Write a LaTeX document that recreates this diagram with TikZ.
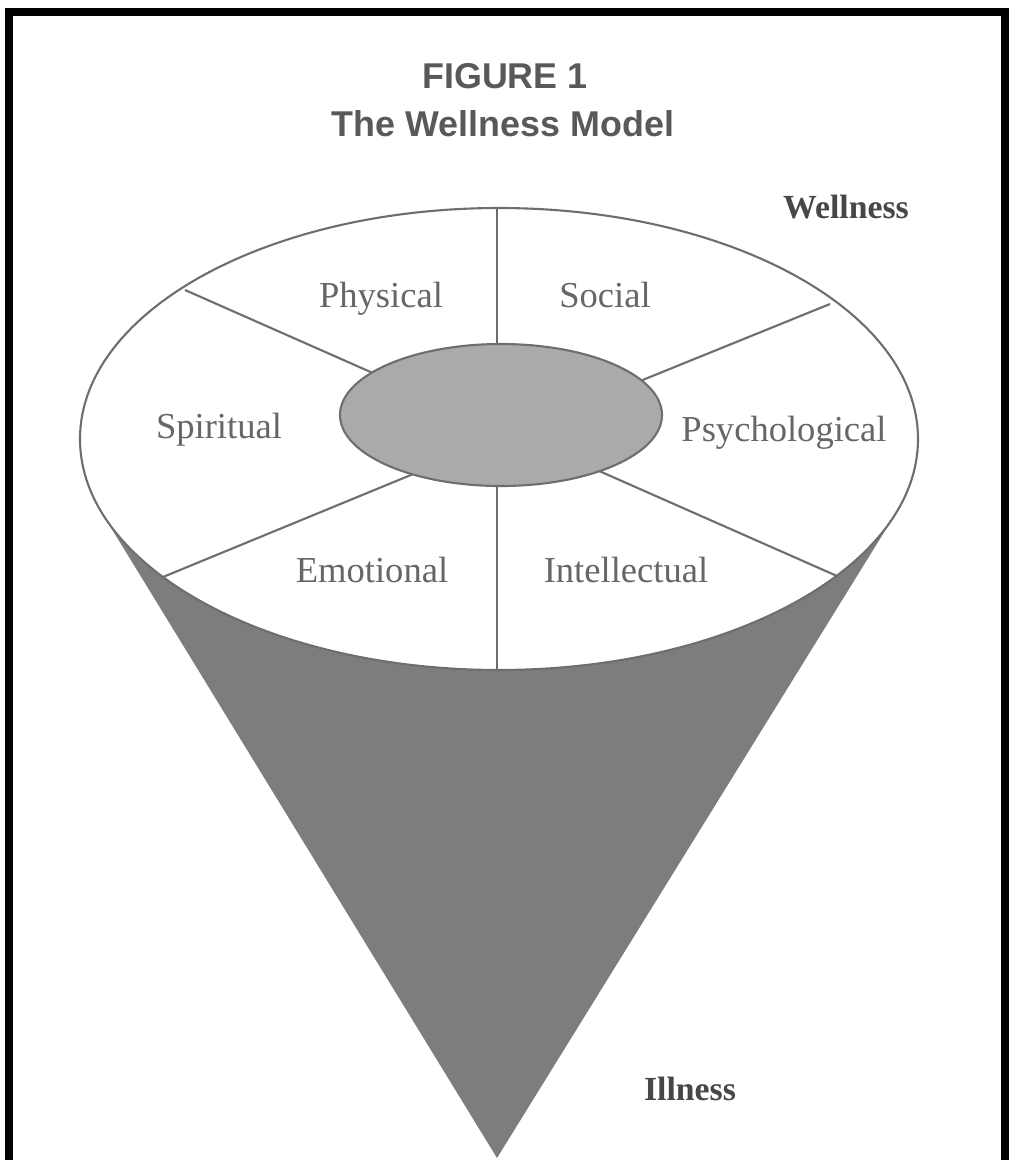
\documentclass[tikz,border=0pt]{standalone}
\usepackage{fontspec}
\setmainfont{Liberation Serif}
\newfontfamily\headfont{Liberation Sans}
\definecolor{conegray}{HTML}{7D7D7D}
\definecolor{coregray}{HTML}{AAAAAA}
\definecolor{rimgray}{HTML}{6E6E6E}
\definecolor{labelgray}{HTML}{666666}
\begin{document}
\begin{tikzpicture}[x=0.025cm,y=-0.025cm,
  rim/.style={draw=rimgray,line width=1.5pt},
  dim/.style={text=labelgray,font=\fontsize{26}{30}\selectfont,anchor=base},
  pole/.style={text=black!72,font=\bfseries\fontsize{24}{28}\selectfont,anchor=base},
  head/.style={text=black!65,font=\headfont\bfseries\fontsize{25.5}{30}\selectfont,anchor=base}]
\useasboundingbox (0,0) rectangle (1015,1160);
% frame, open at the cut bottom
\draw[line width=5.7pt] (9,1175) -- (9,12) -- (1005,12) -- (1005,1175);
\node[head] (title) at (505,88) {FIGURE 1};
\node[head] (subtitle) at (503,136) {The Wellness Model};
% cone
\coordinate (tip) at (497,1158);
\fill[conegray] (102,513) -- (tip) -- (896,513) -- cycle;
% wheel
\draw[rim,fill=white] (499,439) ellipse [x radius=419,y radius=231];
\draw[rim] (497,208) -- (497,350);
\draw[rim] (497,480) -- (497,670);
\draw[rim] (185,290) -- (400,385);
\draw[rim] (830,304) -- (613,392);
\draw[rim] (163,577) -- (440,463);
\draw[rim] (837,576) -- (572,459);
\draw[rim,fill=coregray] (501,415) ellipse [x radius=161,y radius=71];
% dimensions
\node[dim] (physical) at (381,307) {Physical};
\node[dim] (social) at (605,307) {Social};
\node[dim] (spiritual) at (219,438) {Spiritual};
\node[dim] (psycho) at (784,441) {Psychological};
\node[dim] (emotional) at (372,582) {Emotional};
\node[dim] (intellect) at (626,582) {Intellectual};
\node[pole] (wellness) at (846,218) {Wellness};
\node[pole] (illness) at (690,1100) {Illness};
\end{tikzpicture}
\end{document}
